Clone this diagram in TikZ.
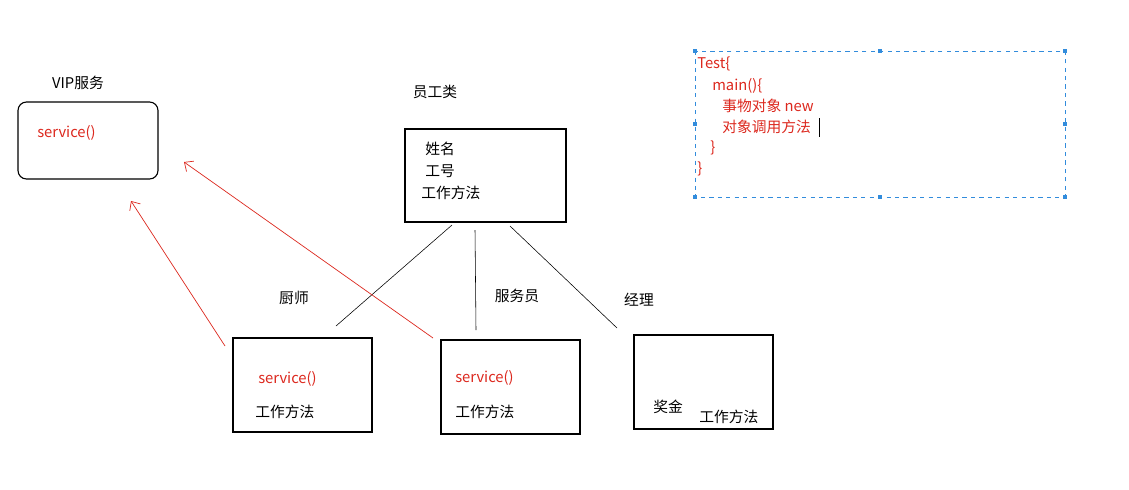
\documentclass[tikz,border=0pt]{standalone}
\usepackage{fontspec}
\setmainfont{Noto Sans CJK SC}
\usetikzlibrary{arrows.meta}
\definecolor{codered}{RGB}{220,40,30}
\definecolor{selblue}{RGB}{50,140,220}
\tikzset{
  box/.style={draw, line width=0.8pt},
  txt/.style={inner sep=0pt, font=\fontsize{10.5}{12}\selectfont},
  redtxt/.style={txt, text=codered, anchor=west},
  inherit/.style={draw=codered, -{Straight Barb[length=5pt,width=9pt]}, line width=0.5pt},
  handle/.style={fill=selblue, minimum size=3pt, inner sep=0pt},
}
\begin{document}
\begin{tikzpicture}[x=0.025cm, y=-0.025cm]
    \useasboundingbox (0,0) rectangle (1129,489);
    % 父类和接口
    \node[box, rounded corners=6pt, minimum width=140*0.025cm, minimum height=77*0.025cm] (vip) at (88,140.5) {};
    \node[txt] (viplbl) at (78,83) {VIP服务};
    \node[redtxt] (vipsrv) at (37,133) {service()};
    \node[box, minimum width=161*0.025cm, minimum height=93*0.025cm] (emp) at (485.5,175.5) {};
    \node[txt] (emplbl) at (435,92) {员工类};
    \node[txt, anchor=west] at (425,149) {姓名};
    \node[txt, anchor=west] at (425,171) {工号};
    \node[txt, anchor=west] at (421,193) {工作方法};

    % 子类
    \node[box, minimum width=139*0.025cm, minimum height=94*0.025cm] (chef) at (302.5,385) {};
    \node[redtxt] at (258,379) {service()};
    \node[txt, anchor=west] at (255,412) {工作方法};
    \node[box, minimum width=139*0.025cm, minimum height=94*0.025cm] (waiter) at (510.5,387) {};
    \node[redtxt] at (455,378) {service()};
    \node[txt, anchor=west] at (455,412) {工作方法};
    \node[box, minimum width=139*0.025cm, minimum height=94*0.025cm] (mgr) at (703.5,382) {};
    \node[txt, anchor=west] at (653,407) {奖金};
    \node[txt, anchor=west] at (699,417) {工作方法};

    % 继承线
    \coordinate (e1) at (452,225); \coordinate (c1) at (336,326);
    \coordinate (e2) at (475,230); \coordinate (w1) at (476,330);
    \coordinate (e3) at (510,226); \coordinate (m1) at (617,328);
    \draw (e1) -- (c1);
    \draw (e2) -- (w1);
    \draw (e3) -- (m1);
    \node[txt] at (294,298) {厨师};
    \node[txt] at (517,296) {服务员};
    \node[txt] at (639,300) {经理};

    % 实现接口
    \coordinate (c2) at (225,346); \coordinate (v1) at (131,201);
    \coordinate (w2) at (433,338); \coordinate (v2) at (184,162);
    \draw[inherit] (c2) -- (v1);
    \draw[inherit] (w2) -- (v2);

    % 测试类
    \draw[selblue, dashed, line width=0.5pt] (695,51) rectangle (1065,197);
    \foreach \hx/\hy in {695/51,880/51,1065/51,695/124,1065/124,695/197,880/197,1065/197}
        \node[handle] at (\hx,\hy) {};
    \foreach \ind/\ty/\line in {697/64/{Test\{}, 712/86/{main()\{}, 722/106/{事物对象 new},
                                722/127/{对象调用方法}, 710/148/{\}}, 697/169/{\}}}
        \node[redtxt] at (\ind,\ty) {\line};
    \draw (819,118) -- (819,137);
\end{tikzpicture}
\end{document}
